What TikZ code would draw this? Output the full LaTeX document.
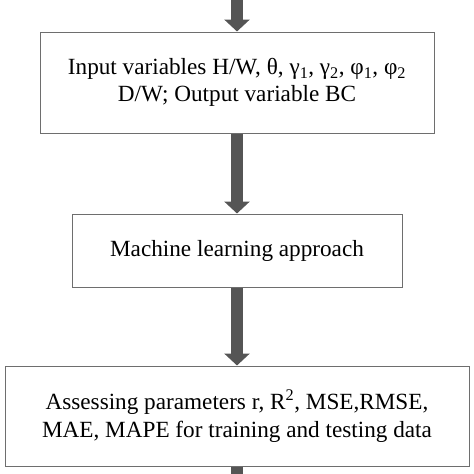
\documentclass[tikz,border=0pt]{standalone}
\usepackage{fontspec}
\setmainfont{Liberation Serif}
\definecolor{flowGray}{RGB}{85, 85, 85}
\definecolor{boxGray}{RGB}{110, 110, 110}
\usetikzlibrary{arrows.meta, positioning}

\begin{document}
\begin{tikzpicture}[x=1pt, y=-1pt,
  node distance=80pt,
  stage/.style={rectangle, draw=boxGray, line width=1pt, fill=white,
                align=center, font=\fontsize{23.2}{27.5}\selectfont},
  arrow/.style={-{Triangle[width=25pt, length=12pt]}, line width=12pt, draw=flowGray},
  stub/.style={line width=12pt, draw=flowGray},
]
  \useasboundingbox (0,0) rectangle (474,474);

  \coordinate (top) at (237,0);
  \node[stage, minimum width=394pt, minimum height=101pt] (inp) at (237,82.5)
    {Input variables H/W, θ, γ\textsubscript{1}, γ\textsubscript{2}, φ\textsubscript{1}, φ\textsubscript{2}\\
     D/W; Output variable BC};
  \node[stage, minimum width=330pt, minimum height=73pt, below=80pt of inp] (ml)
    {Machine learning approach};
  \node[stage, minimum width=464pt, minimum height=100pt, below=78pt of ml] (assess)
    {Assessing parameters r, R\textsuperscript{2}, MSE,RMSE,\\
     MAE, MAPE for training and testing data};
  \coordinate (bottom) at (237,474);

  \draw[arrow] (top) -- (inp.north);
  \draw[arrow] (inp.south) -- (ml.north);
  \draw[arrow] (ml.south) -- (assess.north);
  \draw[stub] (assess.south) -- (bottom);
\end{tikzpicture}
\end{document}
